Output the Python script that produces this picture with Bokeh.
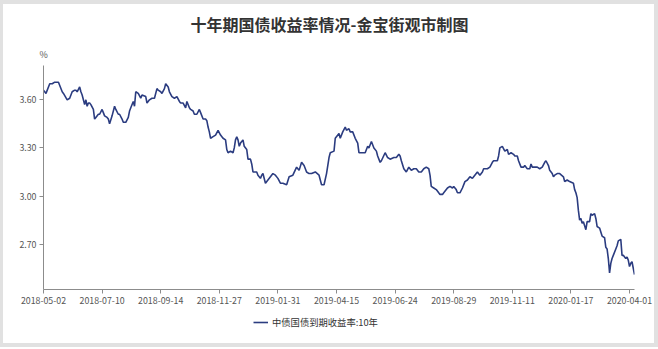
from bokeh.plotting import figure
from bokeh.models import Range1d, FixedTicker, Legend, LegendItem, Title, NumeralTickFormatter
from bokeh.layouts import column
from bokeh.embed import file_html
from bokeh.resources import INLINE

# ---------------- data (trading-day index, 10y CGB yield %) ----------------
days = [
    0, 2, 5, 7, 9, 12, 15, 16, 19, 21, 23, 25, 26, 27, 29, 30, 31, 33, 34, 35,
    36, 37, 38, 40, 41, 42, 44, 45, 47, 48, 49, 51, 52, 53, 55, 57, 58, 60, 61, 63,
    64, 66, 68, 69, 70, 72, 73, 74, 76, 78, 79, 82, 83, 85, 87, 89, 91, 92, 94,
    95, 97, 98, 100, 101, 103, 105, 107, 109, 110, 112, 114, 115, 117, 118, 120, 121, 123, 125, 126,
    128, 130, 131, 132, 133, 134, 136, 138, 140, 142, 144, 146, 147, 148, 150, 152, 153, 154, 155, 156,
    157, 158, 160, 161, 163, 164, 166, 167, 168, 171, 172, 174, 175, 176, 178, 180, 182, 184, 186, 188,
    190, 192, 195, 197, 200, 203, 205, 207, 209, 211, 213, 215, 218, 221, 222, 223, 225, 227, 229, 230,
    233, 234, 237, 238, 240, 242, 243, 245, 246, 248, 250, 252, 253, 256, 258, 260, 261, 263, 265, 267,
    268, 270, 271, 274, 276, 278, 281, 283, 285, 286,
    287, 289, 291, 293, 295, 297, 299, 301, 303, 305, 307, 309, 310, 311, 313, 315, 318, 320, 321, 324,
    326, 328, 329, 331, 332, 334, 336, 338, 340, 342, 344, 345, 348, 350, 352, 353, 356, 358, 360, 361,
    364, 365, 366, 368, 370, 372, 373, 375,
    377, 378, 380, 381, 383, 385, 386, 388, 390, 391, 392, 394, 396, 398, 400, 402, 403, 405, 406, 408,
    409, 410, 412, 414, 417, 418, 420, 422, 425, 426, 427, 428, 429, 430, 431, 432, 433, 435, 436, 438,
    439, 440, 442, 443, 444, 446, 448, 450, 451, 452, 453, 454, 455, 456, 457, 459, 460, 461, 463, 464,
    465, 467, 468, 469, 470, 471, 472, 474,
]
yields = [
    3.66, 3.64, 3.70, 3.70, 3.71, 3.71, 3.65, 3.64, 3.60, 3.61, 3.65, 3.66, 3.66, 3.65, 3.68, 3.65, 3.63, 3.57, 3.60, 3.56,
    3.58, 3.58, 3.57, 3.54, 3.48, 3.49, 3.51, 3.51, 3.54, 3.52, 3.50, 3.49, 3.48, 3.45, 3.50, 3.56, 3.54, 3.51, 3.51, 3.48,
    3.46, 3.46, 3.49, 3.53, 3.55, 3.59, 3.56, 3.65, 3.64, 3.61, 3.63, 3.62, 3.58, 3.60, 3.61, 3.61, 3.67, 3.66, 3.65,
    3.64, 3.67, 3.70, 3.68, 3.65, 3.62, 3.61, 3.62, 3.59, 3.58, 3.58, 3.55, 3.59, 3.55, 3.54, 3.53, 3.51, 3.51, 3.54, 3.52,
    3.48, 3.48, 3.47, 3.43, 3.40, 3.36, 3.37, 3.38, 3.41, 3.38, 3.36, 3.35, 3.29, 3.27, 3.28, 3.27, 3.30, 3.35, 3.37, 3.35,
    3.31, 3.33, 3.35, 3.31, 3.29, 3.23, 3.23, 3.20, 3.15, 3.15, 3.13, 3.11, 3.13, 3.14, 3.08, 3.10, 3.12, 3.14, 3.13, 3.11,
    3.08, 3.08, 3.07, 3.12, 3.13, 3.18, 3.16, 3.21, 3.19, 3.15, 3.14, 3.14, 3.15, 3.13, 3.10, 3.07, 3.07, 3.14, 3.24, 3.27,
    3.28, 3.36, 3.39, 3.36, 3.40, 3.43, 3.41, 3.42, 3.40, 3.40, 3.36, 3.33, 3.27, 3.27, 3.27, 3.31, 3.30, 3.34, 3.30, 3.28,
    3.25, 3.21, 3.22, 3.27, 3.24, 3.23, 3.24, 3.24, 3.26, 3.25,
    3.22, 3.17, 3.15, 3.18, 3.16, 3.17, 3.17, 3.15, 3.15, 3.17, 3.18, 3.17, 3.13, 3.06, 3.05, 3.04, 3.01, 3.01, 3.02, 3.05,
    3.06, 3.05, 3.06, 3.04, 3.02, 3.02, 3.05, 3.09, 3.10, 3.12, 3.11, 3.12, 3.15, 3.13, 3.15, 3.17, 3.17, 3.18, 3.21, 3.22,
    3.22, 3.25, 3.30, 3.31, 3.28, 3.29, 3.26, 3.27,
    3.26, 3.25, 3.25, 3.22, 3.18, 3.18, 3.19, 3.17, 3.17, 3.20, 3.18, 3.18, 3.18, 3.17, 3.18, 3.21, 3.22, 3.19, 3.16, 3.14,
    3.12, 3.13, 3.14, 3.14, 3.12, 3.09, 3.10, 3.09, 3.08, 3.04, 3.02, 2.99, 2.91, 2.85, 2.86, 2.83, 2.84, 2.79, 2.84, 2.84,
    2.89, 2.88, 2.89, 2.86, 2.81, 2.80, 2.75, 2.74, 2.68, 2.67, 2.61, 2.52, 2.58, 2.61, 2.63, 2.67, 2.69, 2.72, 2.73, 2.63,
    2.63, 2.61, 2.62, 2.60, 2.56, 2.58, 2.59, 2.51,
]
tick_labels = ["2018-05-02", "2018-07-10", "2018-09-14", "2018-11-27", "2019-01-31", "2019-04-15",
               "2019-06-24", "2019-08-29", "2019-11-11", "2020-01-17", "2020-04-01"]
TICK_STEP = 47
y_ticks = [2.70, 3.00, 3.30, 3.60]
series_name = "中债国债到期收益率:10年"
title_text = "十年期国债收益率情况-金宝街观市制图"
unit_text = "%"

assert len(days) == len(yields), (len(days), len(yields))

FONT = "Noto Sans CJK SC"
LINE = "#2b3c80"
AXIS = "#8c8c8c"
LABEL = "#555555"

# ---------------- main chart ----------------
p = figure(width=651, height=305, output_backend="svg", toolbar_location=None,
           x_range=Range1d(0, days[-1]), y_range=Range1d(2.417, 3.814),
           min_border_left=40, min_border_right=20, min_border_top=10, min_border_bottom=20,
           background_fill_color="white", border_fill_color="white", outline_line_color=None)

r = p.line(days, yields, line_color=LINE, line_width=1.6)

p.xgrid.visible = False
p.ygrid.visible = False

p.title.text = title_text
p.title.text_font = FONT
p.title.text_font_size = "16px"
p.title.text_font_style = "bold"
p.title.text_color = "#333333"
p.title.align = "left"
p.title.offset = 147

p.add_layout(Title(text=unit_text, align="left", text_font=FONT, text_font_size="9px",
                   text_font_style="normal", text_color=LABEL, offset=-4), "above")

for ax in (p.xaxis[0], p.yaxis[0]):
    ax.axis_line_color = AXIS
    ax.major_tick_line_color = AXIS
    ax.major_tick_out = 4
    ax.major_tick_in = 0
    ax.minor_tick_line_color = None
    ax.major_label_text_font = FONT
    ax.major_label_text_font_size = "8.8px"
    ax.major_label_text_color = LABEL
    ax.major_label_standoff = 3

xt = [i * TICK_STEP for i in range(len(tick_labels))]
p.xaxis.ticker = FixedTicker(ticks=xt)
p.xaxis.major_label_overrides = {t: lab for t, lab in zip(xt, tick_labels)}
p.yaxis.ticker = FixedTicker(ticks=y_ticks)
p.yaxis.formatter = NumeralTickFormatter(format="0.00")

# ---------------- legend strip ----------------
lg = figure(width=651, height=34, output_backend="svg", toolbar_location=None,
            x_range=Range1d(0, 1), y_range=Range1d(0, 1),
            x_axis_location=None, y_axis_location=None,
            min_border_left=0, min_border_right=0, min_border_top=0, min_border_bottom=0,
            background_fill_color="white", border_fill_color="white", outline_line_color=None)
lg.xgrid.visible = False
lg.ygrid.visible = False
# legend key proxy: same series, lies outside this strip's ranges so only its key shows
r_key = lg.line(x=days[:2], y=yields[:2], line_color=LINE, line_width=1.6)

legend = Legend(items=[LegendItem(label=series_name, renderers=[r_key])],
                orientation="horizontal", location=(210, 14),
                label_text_font=FONT, label_text_font_size="9.3px", label_text_color="#333333",
                glyph_width=15, glyph_height=10, label_standoff=4,
                padding=0, margin=0, border_line_alpha=0, background_fill_alpha=0)
lg.add_layout(legend)

layout = column(p, lg, margin=(4, 4, 6, 3), spacing=0,
                styles={"box-shadow": "0 0 0 4px #e1e1e1"})

open("out.html", "w").write(file_html(layout, INLINE))
